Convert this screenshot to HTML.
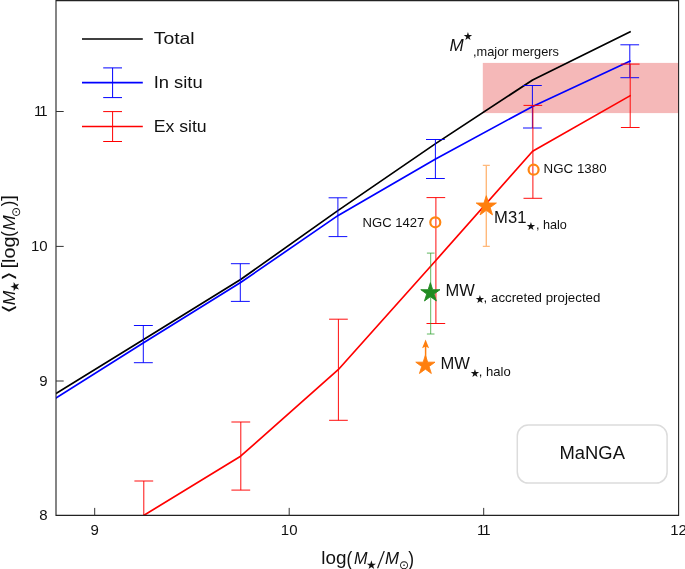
<!DOCTYPE html>
<html><head><meta charset="utf-8"><title>MaNGA stellar mass</title>
<style>
html,body{margin:0;padding:0;background:#fff;}
body{width:685px;height:569px;overflow:hidden;}
svg{display:block;font-family:"Liberation Sans",sans-serif;fill:#111;}
.t{font-size:14px}
.i{font-style:italic}
</style></head><body>
<svg width="685" height="569" viewBox="0 0 685 569">
<rect width="685" height="569" fill="#fff"/>
<rect x="482.8" y="62.9" width="195.7" height="50.2" fill="#f5b8b8"/>
<clipPath id="plotclip"><rect x="56" y="0.6" width="622.6" height="514.9"/></clipPath>
<g clip-path="url(#plotclip)">
<polyline fill="none" stroke="#000" stroke-width="1.7" stroke-linejoin="round" stroke-linecap="square" points="54.0,394.8 143.6,339.5 240.6,279.5 338.2,210.4 435.6,143.6 532.6,80.0 630.0,31.9"/>
<polyline fill="none" stroke="#0000ff" stroke-width="1.7" stroke-linejoin="round" stroke-linecap="square" points="54.0,399.2 143.6,342.8 240.6,282.5 338.2,215.4 435.6,158.9 532.6,106.4 630.0,61.1"/>
<polyline fill="none" stroke="#ff0000" stroke-width="1.7" stroke-linejoin="round" stroke-linecap="square" points="143.6,515.5 240.6,456.2 338.2,369.7 435.6,260.7 532.6,151.3 630.0,95.8"/>
</g>
<path fill="none" stroke="#0000ff" stroke-width="0.95" opacity="1" d="M143.3 325.5V362.7M133.9 325.5H152.8M133.9 362.7H152.8"/>
<path fill="none" stroke="#0000ff" stroke-width="0.95" opacity="1" d="M240.3 263.7V301.4M230.9 263.7H249.8M230.9 301.4H249.8"/>
<path fill="none" stroke="#0000ff" stroke-width="0.95" opacity="1" d="M337.9 197.8V236.6M328.6 197.8H347.3M328.6 236.6H347.3"/>
<path fill="none" stroke="#0000ff" stroke-width="0.95" opacity="1" d="M435.4 139.5V178.5M426.0 139.5H444.8M426.0 178.5H444.8"/>
<path fill="none" stroke="#0000ff" stroke-width="0.95" opacity="1" d="M532.4 85.5V128.0M523.0 85.5H541.8M523.0 128.0H541.8"/>
<path fill="none" stroke="#0000ff" stroke-width="0.95" opacity="1" d="M629.8 44.8V77.7M620.4 44.8H639.1M620.4 77.7H639.1"/>
<path fill="none" stroke="#ff0000" stroke-width="0.95" opacity="1" d="M143.8 481.0V515.5M134.4 481.0H153.2M134.4 515.5H153.2"/>
<path fill="none" stroke="#ff0000" stroke-width="0.95" opacity="1" d="M240.8 422.0V490.1M231.4 422.0H250.2M231.4 490.1H250.2"/>
<path fill="none" stroke="#ff0000" stroke-width="0.95" opacity="1" d="M338.4 319.2V420.3M329.1 319.2H347.8M329.1 420.3H347.8"/>
<path fill="none" stroke="#ff0000" stroke-width="0.95" opacity="1" d="M435.9 197.6V323.5M426.5 197.6H445.2M426.5 323.5H445.2"/>
<path fill="none" stroke="#ff0000" stroke-width="0.95" opacity="1" d="M532.9 105.4V198.3M523.5 105.4H542.2M523.5 198.3H542.2"/>
<path fill="none" stroke="#ff0000" stroke-width="0.95" opacity="1" d="M630.2 64.1V127.5M620.9 64.1H639.6M620.9 127.5H639.6"/>
<path fill="none" stroke="#2ca02c" stroke-width="1" opacity="0.75" d="M430.7 253.1V334.0M426.9 253.1H434.5M426.9 334.0H434.5"/>
<polygon fill="#228b22" stroke="#228b22" stroke-width="0.9" stroke-linejoin="miter" points="430.40,282.70 432.67,289.68 440.01,289.68 434.07,293.99 436.34,300.97 430.40,296.66 424.46,300.97 426.73,293.99 420.79,289.68 428.13,289.68"/>
<path fill="none" stroke="#ff7f0e" stroke-width="1.4" opacity="0.55" d="M486.3 165.4V246.4M482.8 165.4H489.8M482.8 246.4H489.8"/>
<polygon fill="#ff7f0e" stroke="#ff7f0e" stroke-width="0.9" stroke-linejoin="miter" points="486.30,195.70 488.68,203.02 496.38,203.02 490.15,207.55 492.53,214.88 486.30,210.35 480.07,214.88 482.45,207.55 476.22,203.02 483.92,203.02"/>
<path d="M425.6 362V345" stroke="#ff7f0e" stroke-width="1.5" fill="none"/>
<path d="M425.6 339.5L429.1 348.3L425.6 346.4L422.1 348.3Z" fill="#ff7f0e"/>
<polygon fill="#ff7f0e" stroke="#ff7f0e" stroke-width="0.9" stroke-linejoin="miter" points="425.40,355.20 427.67,362.18 435.01,362.18 429.07,366.49 431.34,373.47 425.40,369.16 419.46,373.47 421.73,366.49 415.79,362.18 423.13,362.18"/>
<circle cx="435.3" cy="222.3" r="5" fill="none" stroke="#ff8510" stroke-width="2.2"/>
<circle cx="533.6" cy="169.7" r="5" fill="none" stroke="#ff8510" stroke-width="2.2"/>
<path d="M56.0 0.6H678.6V515.4H56.0Z" fill="none" stroke="#222" stroke-width="1.1"/>
<path d="M94.7 515.5v-7.6" stroke="#333" stroke-width="1"/>
<path d="M289.2 515.5v-7.6" stroke="#333" stroke-width="1"/>
<path d="M483.7 515.5v-7.6" stroke="#333" stroke-width="1"/>
<path d="M56 111.5h7.7" stroke="#333" stroke-width="1"/>
<path d="M56 246.4h7.7" stroke="#333" stroke-width="1"/>
<path d="M56 381.0h7.7" stroke="#333" stroke-width="1"/>
<text x="94.7" y="535.2" font-size="15" text-anchor="middle">9</text>
<text x="289.2" y="535.2" font-size="15" text-anchor="middle">10</text>
<text x="483.7" y="535.2" font-size="15" text-anchor="middle" textLength="13.6" lengthAdjust="spacing">11</text>
<text x="678.6" y="535.2" font-size="15" text-anchor="middle">12</text>
<text x="47.6" y="520.4" font-size="15" text-anchor="end">8</text>
<text x="47.6" y="385.7" font-size="15" text-anchor="end">9</text>
<text x="47.6" y="250.5" font-size="15" text-anchor="end">10</text>
<text x="47.6" y="115.9" font-size="15" text-anchor="end" textLength="13.6" lengthAdjust="spacing">11</text>
<text x="321.2" y="564.3" font-size="18" textLength="25.2" lengthAdjust="spacingAndGlyphs">log</text>
<text x="346.4" y="565.5" font-size="19.5" textLength="5.8" lengthAdjust="spacingAndGlyphs">(</text>
<text x="354.0" y="564.3" font-size="16.5" textLength="13.5" lengthAdjust="spacingAndGlyphs" font-style="italic">M</text>
<text x="366.2" y="568.9" font-size="11.5">★</text>
<text transform="translate(376.9 567.7) skewX(-11) scale(1 1.42)" font-size="16.5">/</text>
<text x="385.0" y="564.3" font-size="16.5" textLength="14.0" lengthAdjust="spacingAndGlyphs" font-style="italic">M</text>
<text x="398.8" y="568.5" font-size="11.5">⊙</text>
<text x="408.3" y="565.5" font-size="19.5" textLength="5.8" lengthAdjust="spacingAndGlyphs">)</text>
<g transform="translate(15.0 311) rotate(-90)">
<text x="-2.9" y="-0.9" font-size="15.5" textLength="9.7" lengthAdjust="spacingAndGlyphs">⟨</text>
<text x="5.8" y="-0.3" font-size="17" textLength="14.5" lengthAdjust="spacingAndGlyphs" font-style="italic">M</text>
<text x="19.5" y="3.6" font-size="12">★</text>
<text x="29.6" y="-0.9" font-size="15.5" textLength="9.7" lengthAdjust="spacingAndGlyphs">⟩</text>
<text x="42.4" y="-1.1" font-size="17.6" textLength="6.0" lengthAdjust="spacingAndGlyphs">[</text>
<text x="48.1" y="0.0" font-size="19" textLength="26.3" lengthAdjust="spacingAndGlyphs">log</text>
<text x="74.3" y="-1.1" font-size="17.6" textLength="5.5" lengthAdjust="spacingAndGlyphs">(</text>
<text x="80.6" y="0.0" font-size="17" textLength="15.2" lengthAdjust="spacingAndGlyphs" font-style="italic">M</text>
<text x="93.6" y="4.5" font-size="12">⊙</text>
<text x="104.8" y="-1.1" font-size="17.6" textLength="5.5" lengthAdjust="spacingAndGlyphs">)</text>
<text x="110.1" y="-1.1" font-size="17.6" textLength="6.0" lengthAdjust="spacingAndGlyphs">]</text>
</g>
<path d="M82 39H142.8" stroke="#000" stroke-width="1.7"/>
<path d="M82 82.7H142.8" stroke="#0000ff" stroke-width="1.7"/>
<path fill="none" stroke="#0000ff" stroke-width="1" opacity="1" d="M112.6 67.9V97.6M103.2 67.9H122.0M103.2 97.6H122.0"/>
<path d="M82 126.5H142.8" stroke="#ff0000" stroke-width="1.7"/>
<path fill="none" stroke="#ff0000" stroke-width="1" opacity="1" d="M112.6 111.6V141.5M103.2 111.6H122.0M103.2 141.5H122.0"/>
<text x="153.7" y="44.4" font-size="16.5" textLength="41.0" lengthAdjust="spacingAndGlyphs">Total</text>
<text x="153.7" y="88.0" font-size="16.5" textLength="49.0" lengthAdjust="spacingAndGlyphs">In situ</text>
<text x="153.7" y="132.3" font-size="16.5" textLength="53.0" lengthAdjust="spacingAndGlyphs">Ex situ</text>
<text x="362.6" y="226.7" font-size="13" textLength="61.8" lengthAdjust="spacingAndGlyphs">NGC 1427</text>
<text x="543.6" y="173.4" font-size="13" textLength="63.0" lengthAdjust="spacingAndGlyphs">NGC 1380</text>
<text x="449.5" y="50.6" font-size="16.5" textLength="14.2" lengthAdjust="spacingAndGlyphs" font-style="italic">M</text>
<text x="463.2" y="39.5" font-size="10.5">★</text>
<text x="473.0" y="56.3" font-size="12.8" textLength="86.0" lengthAdjust="spacingAndGlyphs">,major mergers</text>
<text x="494.1" y="222.7" font-size="16.5" textLength="32.3" lengthAdjust="spacingAndGlyphs">M31</text>
<text x="526.4" y="230.4" font-size="11">★</text>
<text x="535.9" y="229.0" font-size="12.8" textLength="31.0" lengthAdjust="spacingAndGlyphs">, halo</text>
<text x="445.6" y="296.4" font-size="16.5" textLength="29.3" lengthAdjust="spacingAndGlyphs">MW</text>
<text x="475.4" y="303.0" font-size="11">★</text>
<text x="483.6" y="302.2" font-size="12.8" textLength="116.8" lengthAdjust="spacingAndGlyphs">, accreted projected</text>
<text x="440.6" y="368.8" font-size="16.5" textLength="29.4" lengthAdjust="spacingAndGlyphs">MW</text>
<text x="470.0" y="376.8" font-size="11">★</text>
<text x="478.7" y="375.6" font-size="12.8" textLength="32.0" lengthAdjust="spacingAndGlyphs">, halo</text>
<rect x="517.3" y="425.1" width="149.8" height="58" rx="11" ry="11" fill="#fff" stroke="#dcdcdc" stroke-width="1.5"/>
<text x="559.5" y="459.4" font-size="18.3" textLength="65.4" lengthAdjust="spacingAndGlyphs">MaNGA</text>
</svg></body></html>
